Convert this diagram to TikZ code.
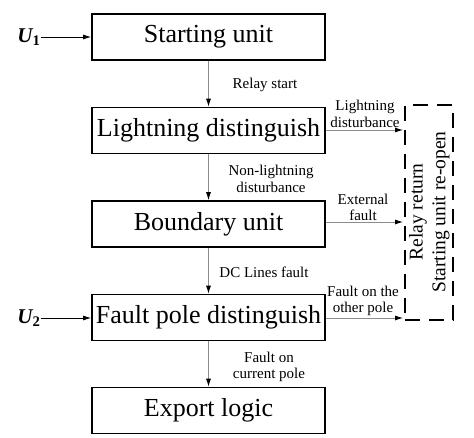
\documentclass[tikz,border=0pt]{standalone}
\usepackage{fontspec}
\setmainfont{Liberation Serif}
\usetikzlibrary{arrows.meta}
\begin{document}
\begin{tikzpicture}[x=1pt,y=-1pt,
  blk/.style={draw, line width=1.6pt, minimum width=233pt, minimum height=46pt, font=\fontsize{26}{28}\selectfont, inner sep=0pt},
  flow/.style={draw=black!45, line width=0.8pt, -{Latex[length=8pt,width=5pt,black]}},
  inarr/.style={draw=black, line width=0.9pt, -{Latex[length=8pt,width=5pt]}},
  lbl/.style={font=\fontsize{15}{16.5}\selectfont, align=center, inner sep=0pt},
  rot/.style={font=\fontsize{19.5}{21}\selectfont, rotate=90, inner sep=0pt}]
\useasboundingbox (0,0) rectangle (474,438);
\node[blk] (s) at (208.5,37) {Starting unit};
\node[blk] (l) at (208.5,130.5) {Lightning distinguish};
\node[blk] (b) at (208.5,224) {Boundary unit};
\node[blk] (f) at (208.5,317.5) {Fault pole distinguish};
\node[blk] (e) at (208.5,410.5) {Export logic};
\node[draw, dash pattern=on 15pt off 9pt, line width=2.6pt, minimum width=48pt, minimum height=215pt] (r) at (429,212.5) {};
\node[rot] (rr) at (418,212) {Relay return};
\node[rot] (su) at (441,212) {Starting unit re-open};
\node[font=\fontsize{21}{23}\selectfont\bfseries\itshape, inner sep=0pt] (u1) at (29,37) {U\textsubscript{\upshape 1}};
\node[font=\fontsize{21}{23}\selectfont\bfseries\itshape, inner sep=0pt] (u2) at (29,318) {U\textsubscript{\upshape 2}};
\draw[inarr] (u1.east) -- (s.west);
\draw[inarr] (u2.east) -- (f.west |- u2.east);
\draw[flow] (s) -- (l);
\draw[flow] (l) -- (b);
\draw[flow] (b) -- (f);
\draw[flow] (f) -- (e);
\coordinate (t1) at (403,130);
\coordinate (t2) at (403,222);
\coordinate (t3) at (403,318);
\draw[flow] (l.east |- t1) -- (t1);
\draw[flow] (b.east |- t2) -- (t2);
\draw[flow] (f.east |- t3) -- (t3);
\node[lbl] (a1) at (265,85) {Relay start};
\node[lbl] (a2) at (271,179) {Non-lightning\\disturbance};
\node[lbl] (a3) at (264,272) {DC Lines fault};
\node[lbl] (a4) at (269,367) {Fault on\\current pole};
\node[lbl] (h1) at (365,114) {Lightning\\disturbance};
\node[lbl] (h2) at (363,207.5) {External\\fault};
\node[lbl] (h3) at (363,301) {Fault on the\\other pole};
\end{tikzpicture}
\end{document}
